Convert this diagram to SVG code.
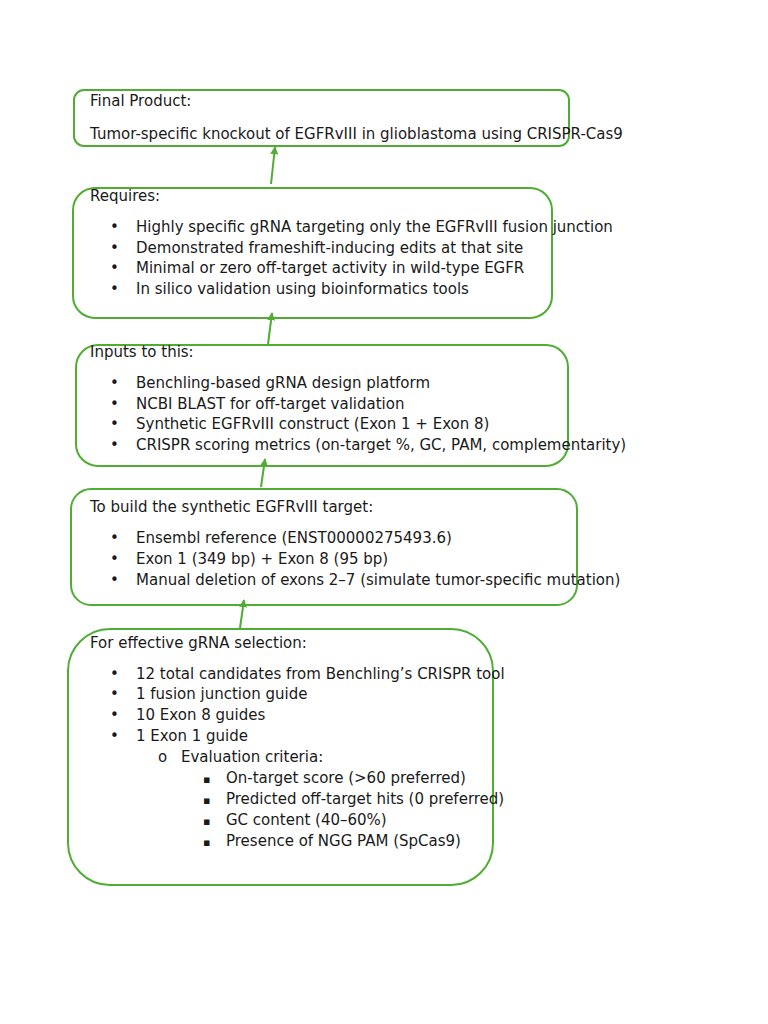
<svg xmlns="http://www.w3.org/2000/svg" width="768" height="1024" viewBox="0 0 768 1024">
<style>
.box{fill:none;stroke:#4fad33;stroke-width:2}
.t{font-family:"DejaVu Sans",sans-serif;font-size:15px;fill:#1a1a1a}
.sq{font-family:"DejaVu Sans",sans-serif;font-size:11px;fill:#1a1a1a}
.c{stroke:#4fad33;stroke-width:2;fill:none}
</style>
<defs>
<marker id="ah" viewBox="0 0 10 10" refX="9" refY="5" markerWidth="4" markerHeight="4" orient="auto" markerUnits="strokeWidth">
<path d="M0,0 L10,5 L0,10 z" fill="#4fad33"/>
</marker>
</defs>
<rect width="768" height="1024" fill="#ffffff"/>
<g id="connectors">
<line class="c" x1="271" y1="184" x2="275" y2="147" marker-end="url(#ah)"/>
<line class="c" x1="268" y1="344" x2="272" y2="313" marker-end="url(#ah)"/>
<line class="c" x1="261" y1="487" x2="265" y2="459" marker-end="url(#ah)"/>
<line class="c" x1="240" y1="628" x2="244" y2="600" marker-end="url(#ah)"/>
</g>
<g id="final">
<rect class="box" x="74" y="90" width="495" height="56" rx="10"/>
<text class="t" x="90" y="106">Final Product:</text>
<text class="t" x="90" y="139">Tumor-specific knockout of EGFRvIII in glioblastoma using CRISPR-Cas9</text>
</g>
<g id="requires">
<rect class="box" x="73" y="188" width="479" height="130" rx="22"/>
<text class="t" x="90" y="201">Requires:</text>
<text class="t" x="110" y="232">•</text><text class="t" x="136" y="232">Highly specific gRNA targeting only the EGFRvIII fusion junction</text>
<text class="t" x="110" y="253">•</text><text class="t" x="136" y="253">Demonstrated frameshift-inducing edits at that site</text>
<text class="t" x="110" y="273">•</text><text class="t" x="136" y="273">Minimal or zero off-target activity in wild-type EGFR</text>
<text class="t" x="110" y="294">•</text><text class="t" x="136" y="294">In silico validation using bioinformatics tools</text>
</g>
<g id="inputs">
<rect class="box" x="76" y="345" width="492" height="121" rx="22"/>
<text class="t" x="90" y="357">Inputs to this:</text>
<text class="t" x="110" y="388">•</text><text class="t" x="136" y="388">Benchling-based gRNA design platform</text>
<text class="t" x="110" y="409">•</text><text class="t" x="136" y="409">NCBI BLAST for off-target validation</text>
<text class="t" x="110" y="429">•</text><text class="t" x="136" y="429">Synthetic EGFRvIII construct (Exon 1 + Exon 8)</text>
<text class="t" x="110" y="450">•</text><text class="t" x="136" y="450">CRISPR scoring metrics (on-target %, GC, PAM, complementarity)</text>
</g>
<g id="build">
<rect class="box" x="71" y="489" width="506" height="116" rx="20"/>
<text class="t" x="90" y="512">To build the synthetic EGFRvIII target:</text>
<text class="t" x="110" y="543">•</text><text class="t" x="136" y="543">Ensembl reference (ENST00000275493.6)</text>
<text class="t" x="110" y="564">•</text><text class="t" x="136" y="564">Exon 1 (349 bp) + Exon 8 (95 bp)</text>
<text class="t" x="110" y="585">•</text><text class="t" x="136" y="585">Manual deletion of exons 2–7 (simulate tumor-specific mutation)</text>
</g>
<g id="selection">
<rect class="box" x="68" y="629" width="425" height="256" rx="42"/>
<text class="t" x="90" y="648">For effective gRNA selection:</text>
<text class="t" x="110" y="679">•</text><text class="t" x="136" y="679">12 total candidates from Benchling’s CRISPR tool</text>
<text class="t" x="110" y="699">•</text><text class="t" x="136" y="699">1 fusion junction guide</text>
<text class="t" x="110" y="720">•</text><text class="t" x="136" y="720">10 Exon 8 guides</text>
<text class="t" x="110" y="741">•</text><text class="t" x="136" y="741">1 Exon 1 guide</text>
<text class="t" x="158" y="762">o</text><text class="t" x="181" y="762">Evaluation criteria:</text>
<text class="sq" x="203" y="783">▪</text><text class="t" x="226" y="783">On-target score (&gt;60 preferred)</text>
<text class="sq" x="203" y="804">▪</text><text class="t" x="226" y="804">Predicted off-target hits (0 preferred)</text>
<text class="sq" x="203" y="825">▪</text><text class="t" x="226" y="825">GC content (40–60%)</text>
<text class="sq" x="203" y="846">▪</text><text class="t" x="226" y="846">Presence of NGG PAM (SpCas9)</text>
</g>
</svg>
